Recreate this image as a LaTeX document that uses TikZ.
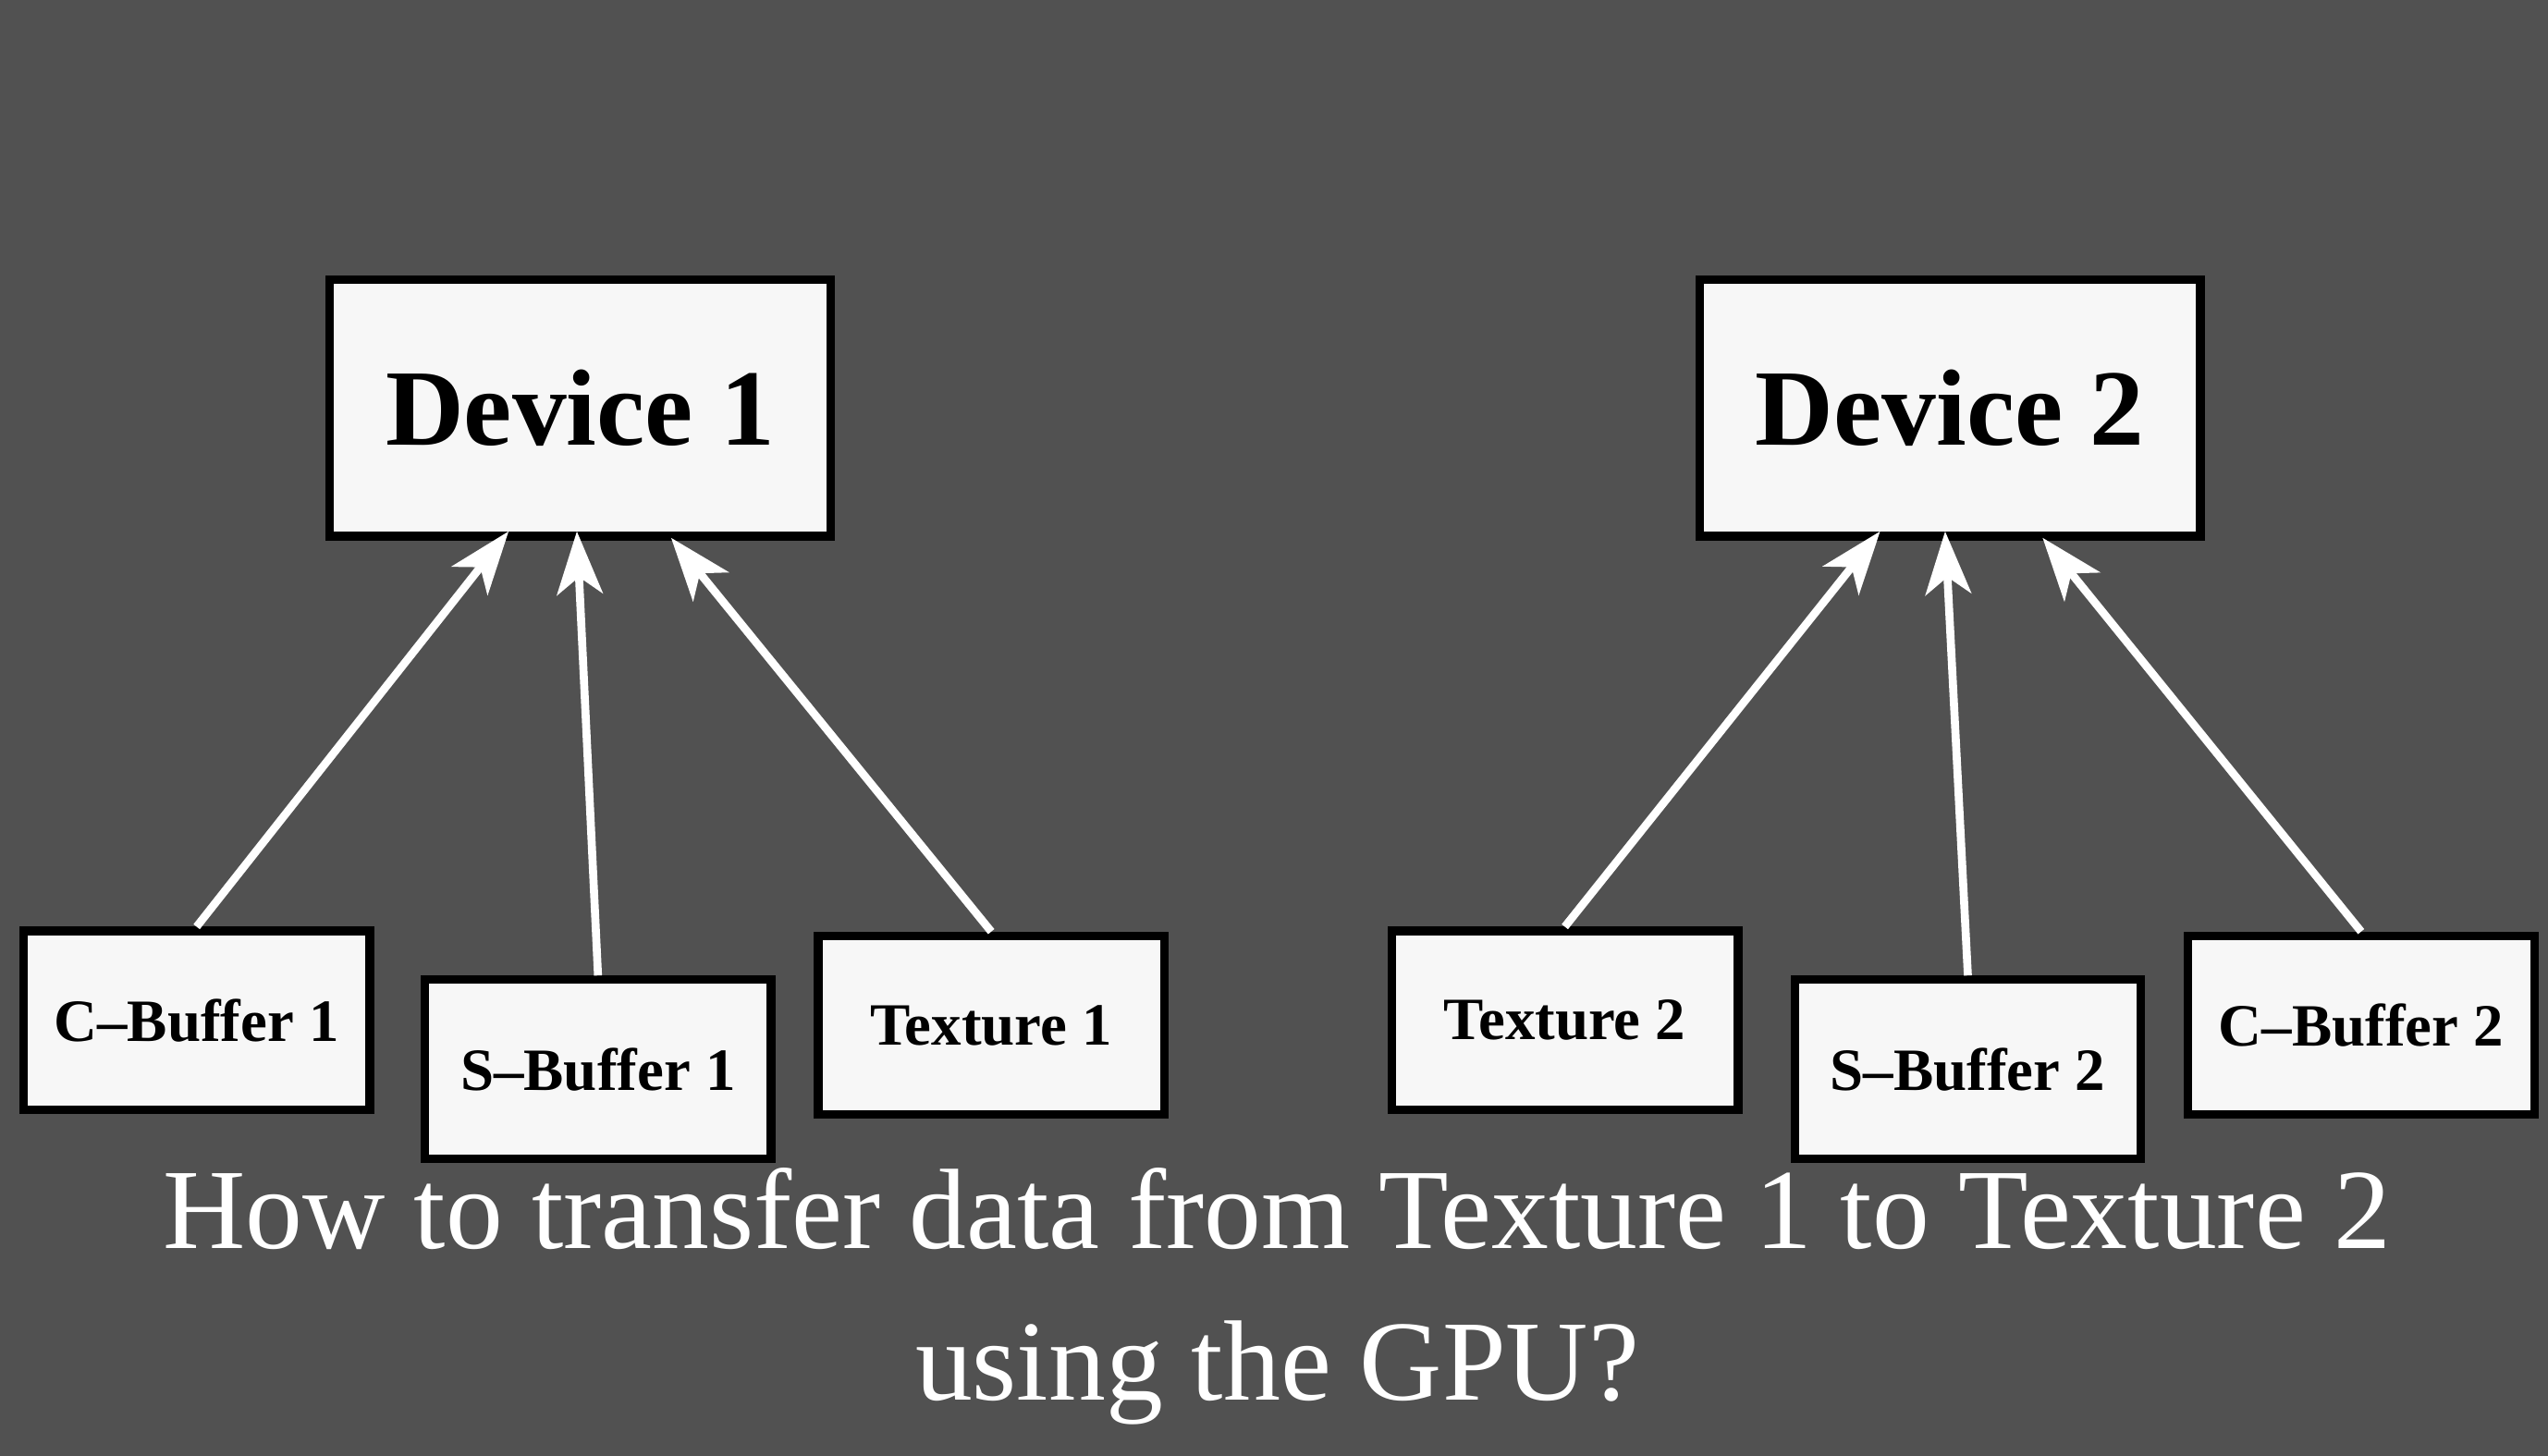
\documentclass[tikz,border=0pt]{standalone}
\usepackage{fontspec}
\setmainfont{Liberation Serif}
\usetikzlibrary{arrows.meta}
\definecolor{bg}{HTML}{515151}
\definecolor{boxfill}{HTML}{F7F7F7}
\begin{document}
\begin{tikzpicture}[x=0.01cm,y=-0.01cm,
  box/.style={draw=black,fill=boxfill,line width=1.5pt,inner sep=0pt},
  arr/.style={draw=white,line width=1.4pt,-{Stealth[length=11pt,width=8pt,inset=3pt]}}]
\fill[bg] (0,0) rectangle (1568,896);
\useasboundingbox (0,0) rectangle (1568,896);
\node[box,minimum width=3.08cm,minimum height=1.58cm] (d1) at (357,251) {\fontsize{19}{22}\selectfont\bfseries Device 1};
\node[box,minimum width=3.08cm,minimum height=1.58cm] (d2) at (1200,251) {\fontsize{19}{22}\selectfont\bfseries Device 2};
\tikzset{sb/.style={box,minimum width=2.13cm,minimum height=1.1cm,font=\fontsize{10.5}{12}\selectfont\bfseries}}
\node[sb] (c1) at (121,628) {C--Buffer 1};
\node[sb] (s1) at (368,658) {S--Buffer 1};
\node[sb] (t1) at (610,631) {Texture 1};
\node[sb] (t2) at (963,628) {Texture 2};
\node[sb] (s2) at (1211,658) {S--Buffer 2};
\node[sb] (c2) at (1453,631) {C--Buffer 2};
\coordinate (a1) at (313,327); \coordinate (a2) at (355,327); \coordinate (a3) at (413,331);
\coordinate (b1) at (1157,327); \coordinate (b2) at (1197,327); \coordinate (b3) at (1257,331);
\draw[arr] (c1.north) -- (a1);
\draw[arr] (s1.north) -- (a2);
\draw[arr] (t1.north) -- (a3);
\draw[arr] (t2.north) -- (b1);
\draw[arr] (s2.north) -- (b2);
\draw[arr] (c2.north) -- (b3);
\node[text=white,align=center,font=\fontsize{20}{26.5}\selectfont] (cap) at (786,798)
 {How to transfer data from Texture 1 to Texture 2\\using the GPU?};
\end{tikzpicture}
\end{document}
